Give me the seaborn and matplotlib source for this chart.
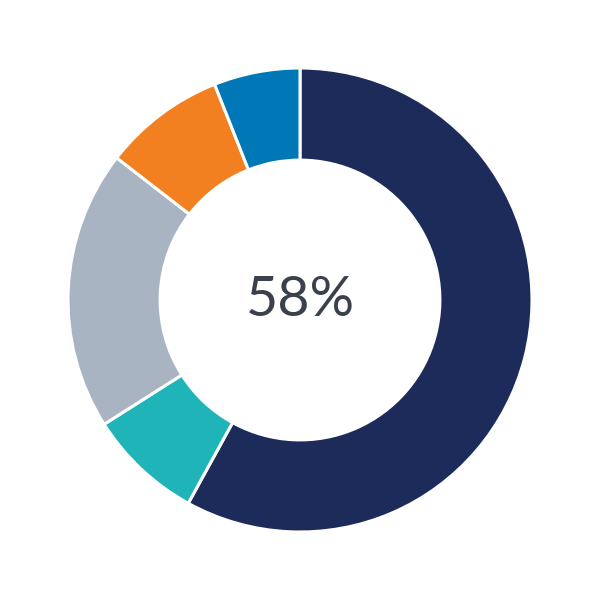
import matplotlib
matplotlib.use("Agg")
import matplotlib.pyplot as plt
import seaborn as sns

# segment shares, clockwise from 12 o'clock
segments = ["Navy", "Teal", "Gray", "Orange", "Blue"]
shares = [58, 8, 19.5, 8.5, 6]
colors = ["#1c2b5a", "#1fb5b8", "#a9b4c2", "#f28021", "#0077b6"]
center_label = "58%"

sns.set_theme(style="white")
plt.rcParams['font.family'] = ['Lato', 'DejaVu Sans']

fig = plt.figure(figsize=(6, 6), dpi=100)
ax = fig.add_axes([0, 0, 1, 1])
ax.pie(shares, colors=colors, startangle=90, counterclock=False,
       radius=1.0,
       wedgeprops=dict(width=0.397, edgecolor="white", linewidth=2.2))
ax.text(0, 0, center_label, ha="center", va="center",
        fontsize=40, color="#3a414c", fontweight="normal")
lim = 300 / 232
ax.set_xlim(-lim, lim)
ax.set_ylim(-lim, lim)
ax.set_aspect("equal")
ax.axis("off")

fig.savefig("out.png", dpi=100, facecolor="white")
